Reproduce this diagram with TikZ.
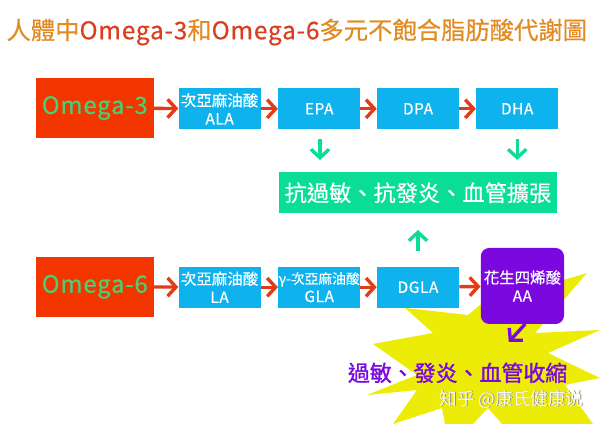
\documentclass[tikz,border=0pt]{standalone}
\usepackage{fontspec}
\setmainfont[FakeBold=0.5]{Noto Sans CJK TC}
\newfontfamily\spacedfont[LetterSpace=3.5,FakeBold=0.5]{Noto Sans CJK TC}
\newfontfamily\heavyfont[FakeBold=1.3]{Noto Sans CJK TC}
\newfontfamily\markfont{Noto Sans CJK TC}
\usetikzlibrary{positioning,arrows.meta}
\definecolor{titleorange}{RGB}{226,139,34}
\definecolor{titlered}{RGB}{218,62,30}
\definecolor{omegared}{RGB}{243,53,0}
\definecolor{omegagreen}{RGB}{72,208,118}
\definecolor{acidblue}{RGB}{14,178,236}
\definecolor{effectgreen}{RGB}{10,222,150}
\definecolor{aapurple}{RGB}{124,8,224}
\definecolor{staryellow}{RGB}{236,236,6}
\definecolor{arrowred}{RGB}{228,58,22}
\newcommand{\latin}[1]{{\spacedfont #1}}
\tikzset{
  omegabox/.style={fill=omegared, text=omegagreen, minimum width=2.95cm, minimum height=1.5cm, inner sep=0pt, font=\fontsize{17}{17}\selectfont},
  acidbox/.style={fill=acidblue, text=white, minimum width=2.05cm, minimum height=1.03cm, inner sep=0pt, align=center, font=\fontsize{11}{13}\selectfont},
  redarrow/.style={draw=arrowred, line width=2.4pt, -{Straight Barb[length=6pt,width=13pt]}},
  greenarrow/.style={draw=effectgreen, line width=2.4pt, -{Straight Barb[length=6pt,width=13pt]}},
  purplearrow/.style={draw=aapurple, line width=2.4pt, -{Straight Barb[length=6pt,width=13pt]}}
}
\begin{document}
\begin{tikzpicture}
\useasboundingbox (0,0) rectangle (15,10.6);
\fill[white] (0,0) rectangle (15,10.6);
% star
\fill[staryellow] (10.125,2.9) -- (11.7,2.725) -- (12,2.975) -- (14.675,3.775) -- (13.375,2.275) -- (15,2.35) -- (13.7,1.775) -- (15,1.15) -- (14.125,0.975) -- (14.825,0) -- (12.55,0) -- (12.2,0.4) -- (11.825,0) -- (11.125,0) -- (11.05,0.4) -- (9.825,0) -- (10.425,0.85) -- (9.175,0.725) -- (10.425,1.225) -- (9.325,2) -- (10.825,2.275) -- cycle;
% title
\node[text=titleorange, font=\fontsize{17.3}{18}\selectfont] (title) at (7.42,9.8) {人體中\textcolor{titlered}{\latin{Omega-3}}和\textcolor{titlered}{\latin{Omega-6}}多元不飽合脂肪酸代謝圖};
% top row
\node[omegabox] (omega3) at (2.37,7.9) {\latin{Omega-3}};
\node[acidbox] (ala) at (5.49,7.88) {次亞麻油酸\\\latin{ALA}};
\node[acidbox] (epa) at (7.98,7.88) {\latin{EPA}};
\node[acidbox] (dpa) at (10.45,7.88) {\latin{DPA}};
\node[acidbox] (dha) at (12.93,7.88) {\latin{DHA}};
\node[fill=effectgreen, text=white, minimum width=6.97cm, minimum height=1.02cm, inner sep=0pt, font=\fontsize{15.8}{16}\selectfont] (effect) at (10.45,5.78) {抗過敏、抗發炎、血管擴張};
% bottom row
\node[omegabox] (omega6) at (2.37,3.43) {\latin{Omega-6}};
\node[acidbox] (la) at (5.49,3.42) {次亞麻油酸\\\latin{LA}};
\node[acidbox] (gla) at (7.98,3.42) {{\fontsize{9.8}{13}\selectfont γ-次亞麻油酸}\\\latin{GLA}};
\node[acidbox] (dgla) at (10.45,3.42) {\latin{DGLA}};
\node[fill=aapurple, text=white, rounded corners=6pt, minimum width=2.08cm, minimum height=1.9cm, inner sep=0pt, align=center, font=\fontsize{11}{13}\selectfont] (aa) at (13.06,3.45) {花生四烯酸\\\latin{AA}};
\node[text=aapurple, font=\fontsize{15.6}{16}\selectfont\heavyfont] (harm) at (11.44,1.28) {過敏、發炎、血管收縮};
\node[text=black!45, font=\fontsize{12.5}{13}\selectfont\markfont] (markshadow) at (12.81,0.6) {知乎 @康氏健康说};
\node[text=white!92!yellow, font=\fontsize{12.5}{13}\selectfont\markfont] (mark) at (12.79,0.62) {知乎 @康氏健康说};
% arrows
\draw[redarrow] (omega3) -- (ala);
\draw[redarrow] (ala) -- (epa);
\draw[redarrow] (epa) -- (dpa);
\draw[redarrow] (dpa) -- (dha);
\draw[redarrow] (omega6) -- (la);
\draw[redarrow] (la) -- (gla);
\draw[redarrow] (gla) -- (dgla);
\draw[redarrow] (dgla) -- (aa);
\coordinate (epatail) at (8,7.13);
\coordinate (epatip) at (8,6.6);
\coordinate (dhatail) at (12.93,7.13);
\coordinate (dhatip) at (12.93,6.6);
\coordinate (dglatail) at (10.45,4.33);
\coordinate (dglatip) at (10.45,4.85);
\coordinate (aatail) at (13.13,2.5);
\coordinate (aatip) at (12.72,2.05);
\draw[greenarrow] (epatail) -- (epatip);
\draw[greenarrow] (dhatail) -- (dhatip);
\draw[greenarrow] (dglatail) -- (dglatip);
\draw[purplearrow] (aatail) -- (aatip);
\end{tikzpicture}
\end{document}
